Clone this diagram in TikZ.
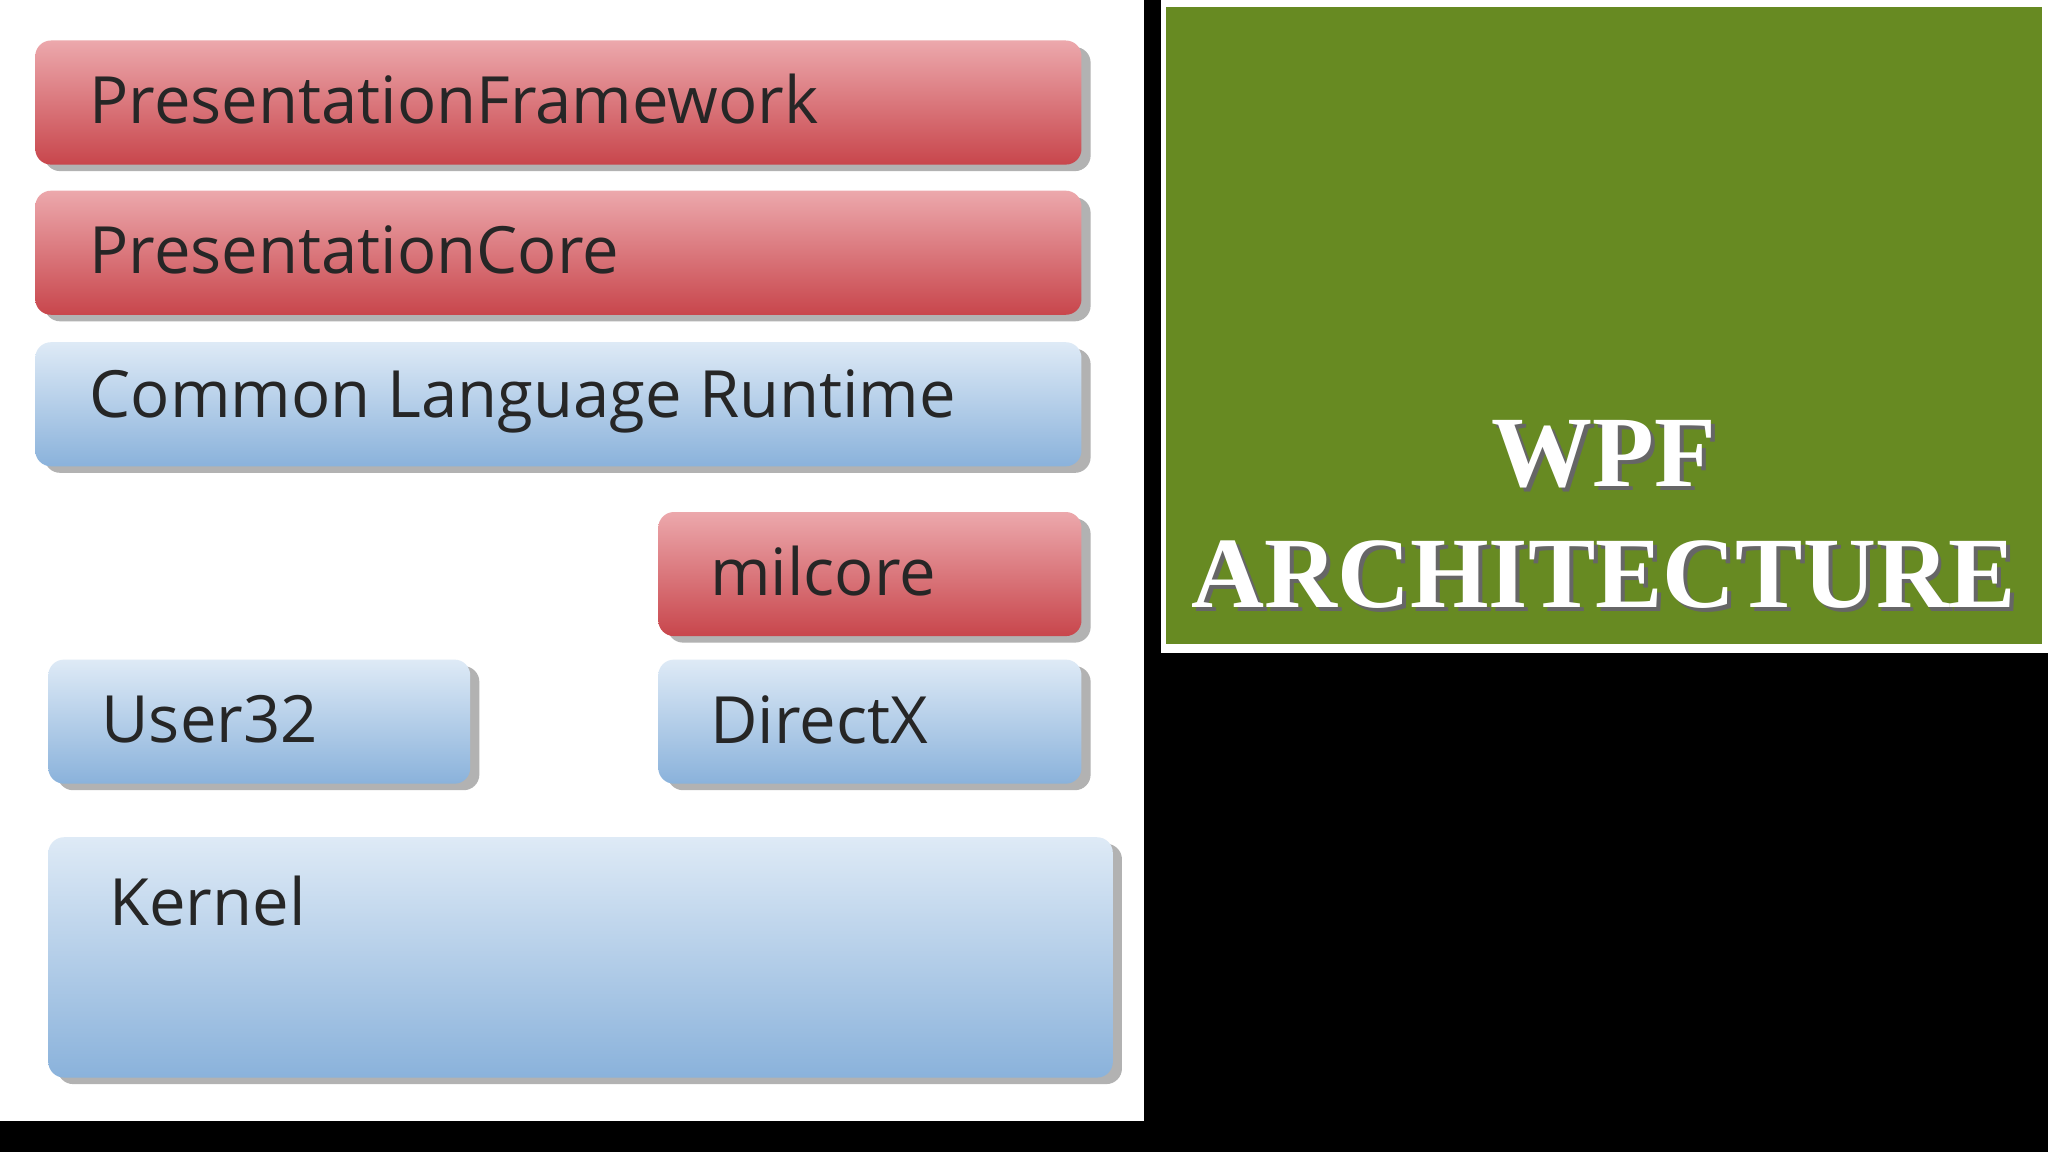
\documentclass[tikz,border=0pt]{standalone}
\usepackage{fontspec}
\setmainfont{Liberation Serif}
\newfontfamily\boxfont{Open Sans}
\definecolor{redtop}{RGB}{236,168,172}
\definecolor{redbot}{RGB}{200,70,76}
\definecolor{bluetop}{RGB}{222,234,246}
\definecolor{bluebot}{RGB}{138,178,219}
\definecolor{wpfgreen}{RGB}{103,138,34}
\begin{document}
\begin{tikzpicture}
\tikzset{
 layer/.style={rounded corners=0.12cm, draw=none, minimum height=0.95cm, inner sep=0pt},
 redl/.style={layer, top color=redtop, bottom color=redbot},
 bluel/.style={layer, top color=bluetop, bottom color=bluebot},
 shad/.style={fill=black!30, rounded corners=0.12cm},
 lbl/.style={anchor=west, font=\boxfont\fontsize{14.2}{17}\selectfont, text=black!85, inner sep=0pt},
 title/.style={font=\bfseries\fontsize{22}{26}\selectfont, text=white}
}
\useasboundingbox (0,0) rectangle (15.68,8.82);
\fill[black] (0,0) rectangle (15.68,8.82);
\fill[white] (0,0.24) rectangle (8.76,8.82);
\fill[white] (8.89,3.82) rectangle (15.68,8.82);
\fill[wpfgreen] (8.93,3.89) rectangle (15.63,8.77);
\foreach \x/\y/\w/\h in {0.27/7.56/8.01/0.95,0.27/6.41/8.01/0.95,0.27/5.25/8.01/0.95,5.04/3.95/3.24/0.95,0.37/2.82/3.23/0.95,5.04/2.82/3.24/0.95,0.37/0.57/8.15/1.84}
  \fill[shad] (\x+0.07,\y-0.05) rectangle ++(\w,\h);
\node[redl, minimum width=8.01cm] (pf) at (4.275,8.035) {};
\node[redl, minimum width=8.01cm] (pc) at (4.275,6.885) {};
\node[bluel, minimum width=8.01cm] (clr) at (4.275,5.725) {};
\node[redl, minimum width=3.24cm] (mil) at (6.66,4.425) {};
\node[bluel, minimum width=3.23cm] (u32) at (1.985,3.295) {};
\node[bluel, minimum width=3.24cm] (dx) at (6.66,3.295) {};
\node[bluel, minimum width=8.15cm, minimum height=1.84cm] (ker) at (4.445,1.49) {};
\node[lbl] (tpf) at (0.68,8.06) {PresentationFramework};
\node[lbl] (tpc) at (0.68,6.91) {PresentationCore};
\node[lbl] (tclr) at (0.68,5.75) {Common Language Runtime};
\node[lbl] (tmil) at (5.43,4.45) {milcore};
\node[lbl] (tu32) at (0.77,3.31) {User32};
\node[lbl] (tdx) at (5.43,3.31) {DirectX};
\node[lbl] (tker) at (0.83,1.92) {Kernel};
\node[title, text=black!60] at (12.31,5.31) {WPF};
\node[title, text=black!60] at (12.31,4.39) {ARCHITECTURE};
\node[title] (wpf) at (12.28,5.34) {WPF};
\node[title] (arch) at (12.28,4.42) {ARCHITECTURE};
\end{tikzpicture}
\end{document}
